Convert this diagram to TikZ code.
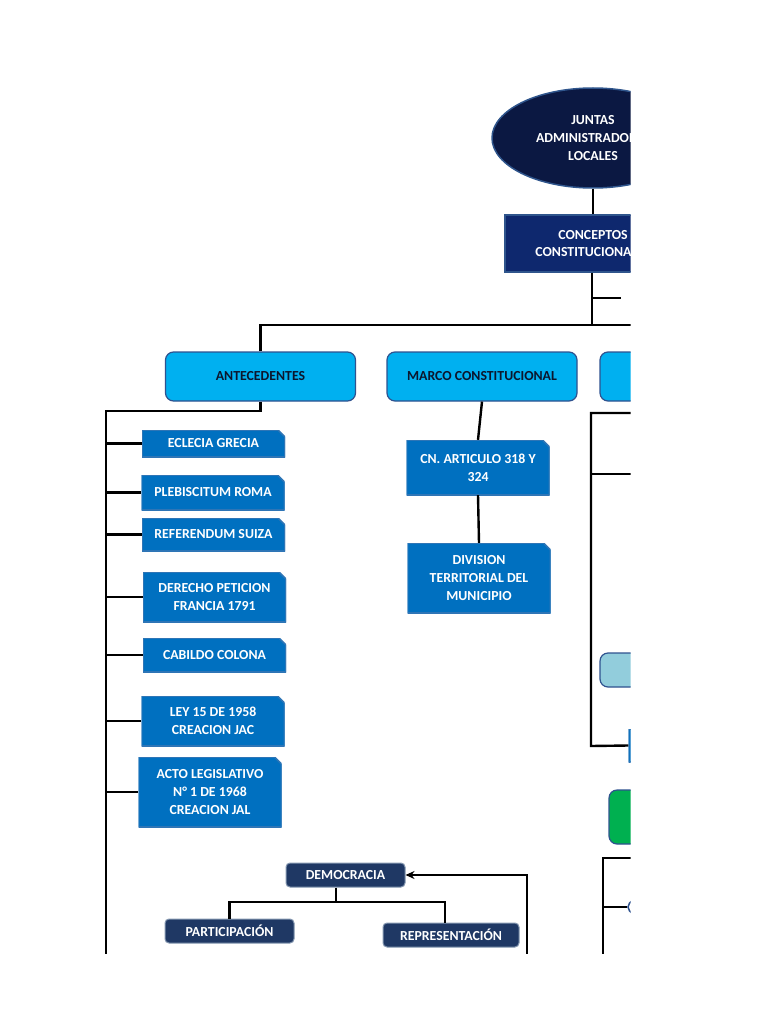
\documentclass[tikz,border=0pt]{standalone}
\usepackage{fontspec}
\setmainfont{Carlito}
\usetikzlibrary{shapes.geometric,arrows.meta}
\definecolor{marine}{RGB}{11,24,66}
\definecolor{marinebord}{RGB}{47,85,140}
\definecolor{bleuconcept}{RGB}{14,40,110}
\definecolor{cyanboite}{RGB}{0,176,240}
\definecolor{bordboite}{RGB}{47,82,143}
\definecolor{texteboite}{RGB}{12,22,45}
\definecolor{bleuboite}{RGB}{0,112,192}
\definecolor{bordcoin}{RGB}{46,117,182}
\definecolor{bleuclair}{RGB}{146,205,220}
\definecolor{vertboite}{RGB}{0,176,80}
\definecolor{bleudemo}{RGB}{31,56,100}
\definecolor{borddemo}{RGB}{132,151,176}
\tikzset{
  txt/.style={font=\bfseries\fontsize{13.8}{17.8}\selectfont, align=center, inner sep=2pt},
  ovale/.style={txt, ellipse, fill=marine, draw=marinebord, line width=1.5pt, text=white, minimum width=202pt, minimum height=100pt},
  concept/.style={txt, rectangle, fill=bleuconcept, draw=marinebord, line width=1.2pt, text=white, minimum width=176pt, minimum height=57pt},
  titre/.style={txt, rectangle, rounded corners=8pt, fill=cyanboite, draw=bordboite, line width=1.2pt, text=texteboite, minimum width=190pt, minimum height=49pt},
  clair/.style={titre, fill=bleuclair, minimum width=180pt, minimum height=34pt},
  vert/.style={titre, fill=vertboite, minimum width=182pt, minimum height=54pt},
  coin/.style={txt, text=white, minimum width=143pt, minimum height=#1pt,
    path picture={
      \fill[bleuboite, draw=bordcoin, line width=1.6pt]
        (path picture bounding box.south west) -- (path picture bounding box.south east)
        -- ([yshift=-7pt]path picture bounding box.north east)
        -- ([xshift=-7pt]path picture bounding box.north east)
        -- (path picture bounding box.north west) -- cycle;}},
  demo/.style={txt, rectangle, rounded corners=4pt, fill=bleudemo, draw=borddemo, line width=1pt, text=white, minimum height=24pt},
  lien/.style={draw=black, line width=2.4pt}
}
\begin{document}
\begin{tikzpicture}[x=1pt, y=-1pt]
  % cadre de la page
  \useasboundingbox[fill=white] (0,0) rectangle (768,1024);

\begin{scope}
  \clip (0,0) rectangle (630.5,953);

  % haut
  \node[ovale] (jal) at (593,138) {JUNTAS\\ADMINISTRADORES\\LOCALES};
  \node[concept] (conceptos) at (593,243.5) {CONCEPTOS\\CONSTITUCIONALES};
  \draw[lien] (jal.south) -- (conceptos.south |- jal.south) -- (conceptos.north);

  \coordinate (bus) at (592,325);
  \coordinate (busfin) at (780,325);
  \coordinate (ergot) at (621,298);
  \draw[lien] (conceptos.south -| bus) -- (bus);
  \draw[lien] (ergot -| bus) -- (ergot);

  % niveau 2
  \node[titre] (antecedentes) at (260.5,376.5) {ANTECEDENTES};
  \node[titre] (marco) at (482,376.5) {MARCO CONSTITUCIONAL};
  \node[titre] (tercero) at (695,376.5) {};
  \draw[lien] (antecedentes.north) -- (antecedentes.north |- bus) -- (busfin);

  % antecedentes
  \node[coin=27] (ecl) at (213.5,443.5) {ECLECIA GRECIA};
  \node[coin=35] (pleb) at (213,492.5) {PLEBISCITUM ROMA};
  \node[coin=33] (ref) at (213.5,534.5) {REFERENDUM SUIZA};
  \node[coin=50] (der) at (214.5,597) {DERECHO PETICION\\FRANCIA 1791};
  \node[coin=34] (cab) at (214.5,655) {CABILDO COLONA};
  \node[coin=50] (ley) at (213,721) {LEY 15 DE 1958\\CREACION JAC};
  \node[coin=70] (acto) at (210,792) {ACTO LEGISLATIVO\\N° 1 DE 1968\\CREACION JAL};

  \coordinate (tronc) at (106,411);
  \draw[lien] (antecedentes.south) -- (antecedentes.south |- tronc) -- (tronc) -- (106,960);
  \foreach \b in {ecl,pleb,ref,der,cab,ley,acto}
    \draw[lien] (\b.west -| tronc) -- (\b.west);

  % marco constitucional
  \node[coin=55] (cn) at (478,467.5) {CN. ARTICULO 318 Y\\324};
  \node[coin=70] (division) at (479,578) {DIVISION\\TERRITORIAL DEL\\MUNICIPIO};
  \draw[lien] (marco.south) -- (cn.north);
  \draw[lien] (cn.south) -- (division.north);

  % branche de droite
  \node[clair] (clara) at (690,670) {};
  \node[coin=33] (caja) at (700,745.5) {};
  \node[vert] (verde) at (700,817) {};
  \node[ellipse, draw=bordboite, line width=1.5pt, minimum width=144pt, minimum height=38pt] (elipse) at (700,907) {};

  \coordinate (dtr) at (591,413);
  \coordinate (dbas) at (591,746);
  \draw[lien] (tercero.south) -- (tercero.south |- dtr) -- (dtr) -- (dbas) -- (caja.west);
  \draw[lien] (591,474) -- (700,474);

  \coordinate (vtr) at (603,858);
  \draw[lien] (verde.south) -- (verde.south |- vtr) -- (vtr) -- (603,960);
  \draw[lien] (elipse.west -| vtr) -- (elipse.west);

  % democracia
  \node[demo, minimum width=119pt] (democracia) at (345.5,875) {DEMOCRACIA};
  \node[demo, minimum width=129pt] (participacion) at (229.5,931) {PARTICIPACIÓN};
  \node[demo, minimum width=136pt] (representacion) at (451,935) {REPRESENTACIÓN};

  \coordinate (dj) at (336,902);
  \draw[lien] (democracia.south -| dj) -- (dj);
  \draw[lien] (participacion.north) |- (dj) -| ([xshift=-6pt]representacion.north);
  \draw[lien, -{Stealth[length=9pt,width=8pt]}] (527,960) |- (democracia.east);
\end{scope}
\end{tikzpicture}
\end{document}
